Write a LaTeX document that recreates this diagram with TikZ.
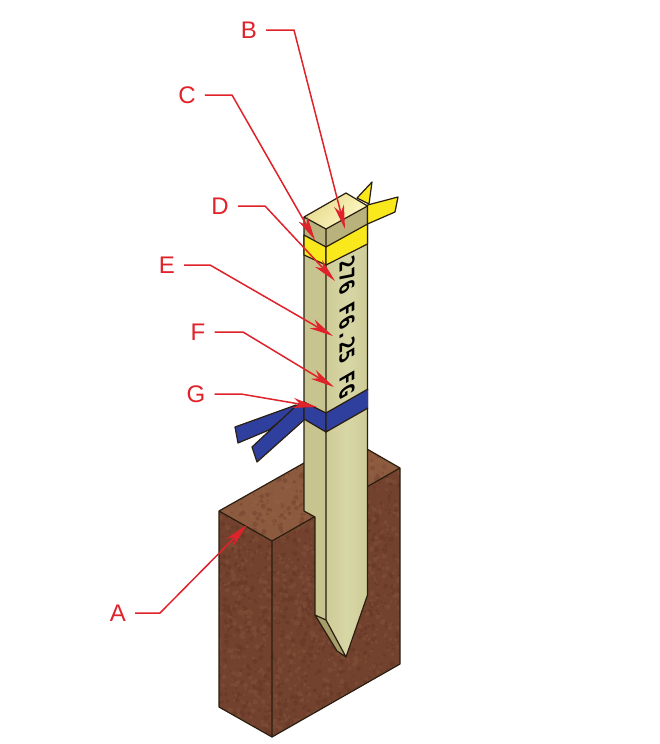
\documentclass[tikz,border=0pt]{standalone}
\usepackage{fontspec}
\setmainfont{Liberation Sans}
\newfontfamily\stakefont{DejaVu Sans Mono Bold}
\usetikzlibrary{arrows.meta}
\definecolor{ink}{HTML}{2A1E10}
\definecolor{leadred}{HTML}{E0222A}
\definecolor{soiltop}{HTML}{8C5A3E}
\definecolor{soilface}{HTML}{72422E}
\definecolor{soildark}{HTML}{55291C}
\definecolor{soillight}{HTML}{9C6A50}
\definecolor{postleft}{HTML}{C7C48F}
\definecolor{postright}{HTML}{CDCC97}
\definecolor{postlight}{HTML}{D7D7A6}
\definecolor{postupper}{HTML}{B9B27C}
\definecolor{postbevel}{HTML}{A79F6B}
\definecolor{tapeyellow}{HTML}{F8E81C}
\definecolor{tapeblue}{HTML}{2F3F9E}
\definecolor{topa}{HTML}{FFFBC8}
\definecolor{topb}{HTML}{E6D88C}
\tikzset{
  outline/.style={draw=ink,line width=1.2pt,line join=round},
  labeltext/.style={text=leadred,font=\fontsize{24}{24}\selectfont,inner xsep=9pt,inner ysep=0pt},
  leader/.style={draw=leadred,line width=1.5pt,-{Stealth[length=24pt,width=10pt,inset=7pt,fill=leadred]}},
}
\begin{document}
\begin{tikzpicture}[x=1pt,y=-1pt]
\useasboundingbox (0,0) rectangle (660,744);
\fill[white] (0,0) rectangle (660,744);
% soil block
\coordinate (sl) at (219,511);
\coordinate (sf) at (272,541);
\coordinate (sr) at (400,468);
\coordinate (sb) at (367,449);
\coordinate (slb) at (219,707);
\coordinate (sfb) at (272,737);
\coordinate (srb) at (400,664);
\fill[soiltop] (sl)--(sf)--(sr)--(sb)--(304,463)--cycle;
\fill[soilface] (sl)--(sf)--(sfb)--(slb)--cycle;
\fill[soilface] (sf)--(sr)--(srb)--(sfb)--cycle;
\pgfmathsetseed{4217}
\begin{scope}
\clip (sl)--(304,463)--(sb)--(sr)--(srb)--(sfb)--(slb)--cycle;
\fill[soildark,opacity=.25] foreach \i in {1,...,1100}{({219+rnd*181},{449+rnd*288}) circle ({.8+rnd*1.8})};
\fill[soillight,opacity=.22] foreach \i in {1,...,1100}{({219+rnd*181},{449+rnd*288}) circle ({.8+rnd*1.8})};
\end{scope}
\draw[outline] (sl)--(304,463) (sb)--(sr)--(srb)--(sfb)--(slb)--(sl)--(sf)--(sr) (sf)--(sfb);
% back yellow tail
\draw[outline,fill=tapeyellow] (357,198)--(372,182)--(369,204)--cycle;
% post body faces
\coordinate (tl) at (304,217);
\coordinate (tf) at (326,229);
\coordinate (tr) at (367.5,206);
\coordinate (tb) at (346,193);
\coordinate (pn1) at (304,511);
\coordinate (pn2) at (315,517);
\coordinate (pn3) at (315,615);
\coordinate (pm) at (326,620);
\coordinate (ptip) at (346,657);
\coordinate (pr) at (367.5,595);
\fill[postleft] (tl)--(tf)--(pm)--(pn3)--(pn2)--(pn1)--cycle;
\begin{scope}
\clip (tf)--(tr)--(pr)--(ptip)--(pm)--cycle;
\shade[left color=postright,right color=postright,middle color=postlight] (326,190) rectangle (368,660);
\end{scope}
\fill[postupper] (tl)--(tf)--(tr)--(367.5,225)--(326,248)--(304,236)--cycle;
\fill[postbevel] (pn3)--(pm)--(ptip)--(337,651)--cycle;
\draw[outline] (tl)--(pn1)--(pn2)--(pn3)--(337,651)--(ptip)--(pr)--(tr) (tf)--(pm)--(ptip) (pn3)--(pm);
% top face
\shade[top color=topb,bottom color=topa,shading angle=45,draw=ink,line width=1.2pt,line join=round] (tl)--(tf)--(tr)--(tb)--cycle;
% yellow band
\draw[outline,fill=tapeyellow] (304,235)--(326,247)--(326,265)--(304,255)--cycle;
\draw[outline,fill=tapeyellow] (326,247)--(367.5,224)--(367.5,244)--(326,265)--cycle;
\draw[outline,fill=tapeyellow] (367.5,205)--(398,197)--(395,212)--(367.5,224)--cycle;
% blue tails
\draw[outline,fill=tapeblue] (296,405)--(235,427)--(238,443)--(269,430)--(297,407)--cycle;
\draw[outline,fill=tapeblue] (296,406)--(252,447)--(257,462)--(304,420)--(304,402)--cycle;
% blue band
\draw[outline,fill=tapeblue] (304,402)--(326,413)--(326,432)--(304,419)--cycle;
\fill[tapeblue] (326,413)--(368,389)--(368,408)--(326,432)--cycle;
\draw[outline] (326,413)--(368,389) (368,408)--(326,432)--(326,413);
% painted text
\begin{scope}[shift={(347,327.5)},cm={0,-.94,1.0,.57,(0,0)}]
\node[transform shape,inner sep=0pt,font=\stakefont\fontsize{20.3}{20}\selectfont,text=black] (staketext) at (0,0) {276 F6.25 FG};
\end{scope}
% labels
\node[labeltext] (labB) at (249,30) {B};
\node[labeltext] (labC) at (187,95) {C};
\node[labeltext] (labD) at (220,206) {D};
\node[labeltext] (labE) at (167,265) {E};
\node[labeltext] (labF) at (198,332) {F};
\node[labeltext] (labG) at (196,394) {G};
\node[labeltext] (labA) at (118,613) {A};
\coordinate (bendB) at (294,30);
\coordinate (tipB) at (345,229);
\coordinate (bendC) at (232,95);
\coordinate (tipC) at (315,240);
\coordinate (bendD) at (265,206);
\coordinate (tipD) at (335,281);
\coordinate (bendE) at (210,265);
\coordinate (tipE) at (333,336);
\coordinate (bendF) at (243,332);
\coordinate (tipF) at (334,387);
\coordinate (bendG) at (241,394);
\coordinate (tipG) at (317,407);
\coordinate (bendA) at (160,613);
\coordinate (tipA) at (247,525);
\foreach \n in {B,C,D,E,F,G,A}{
  \draw[leader] (lab\n.east)--(bend\n)--(tip\n);
}
\end{tikzpicture}
\end{document}
